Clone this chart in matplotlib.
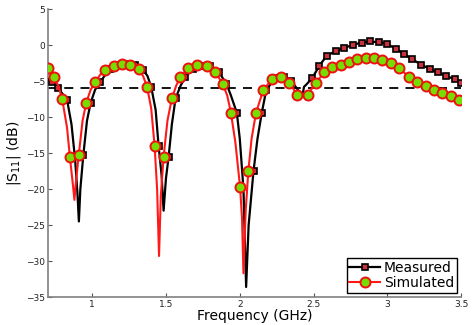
import numpy as np
import matplotlib
matplotlib.use("Agg")
import matplotlib.pyplot as plt

# Datos (frecuencia en GHz, |S11| en dB)
# 1 = punto con marcador, 0 = punto solo de la curva
sim_f = [0.70, 0.74, 0.77, 0.797, 0.83, 0.849, 0.87, 0.88, 0.89, 0.909,
         0.935, 0.96, 0.99, 1.022, 1.055, 1.09, 1.146, 1.203, 1.259, 1.315,
         1.345, 1.372, 1.40, 1.423, 1.44, 1.453, 1.465, 1.484, 1.51, 1.54,
         1.57, 1.597, 1.649, 1.709, 1.777, 1.833, 1.885, 1.915, 1.94, 1.97,
         2.002, 2.015, 2.025, 2.04, 2.058, 2.08, 2.11, 2.16, 2.22, 2.277,
         2.333, 2.39, 2.46, 2.516, 2.572, 2.628, 2.685, 2.74, 2.797, 2.853,
         2.91, 2.966, 3.022, 3.078, 3.146, 3.203, 3.259, 3.315, 3.372, 3.428,
         3.484]
sim_db = [-3.2, -4.5, -5.6, -7.5, -11.5, -15.5, -19.5, -21.5, -19.0, -15.3,
          -10.5, -8.0, -6.2, -5.1, -4.1, -3.5, -2.9, -2.65, -2.7, -3.35,
          -4.3, -5.8, -8.8, -14.0, -20.0, -29.3, -21.0, -15.5, -10.5, -7.4,
          -5.6, -4.5, -3.25, -2.8, -2.9, -3.7, -5.4, -7.0, -9.4, -13.5,
          -19.7, -24.0, -31.7, -23.0, -17.5, -13.0, -9.4, -6.2, -4.7, -4.4,
          -5.2, -6.9, -6.9, -5.2, -3.8, -3.1, -2.7, -2.3, -1.95, -1.75,
          -1.85, -2.1, -2.45, -3.2, -4.4, -5.1, -5.7, -6.2, -6.6, -7.1,
          -7.6]
sim_mark = [1, 1, 0, 1, 0, 1, 0, 0, 0, 1,
            0, 1, 0, 1, 0, 1, 1, 1, 1, 1,
            0, 1, 0, 1, 0, 0, 0, 1, 0, 1,
            0, 1, 1, 1, 1, 1, 1, 0, 1, 0,
            1, 0, 0, 0, 1, 0, 1, 1, 1, 1,
            1, 1, 1, 1, 1, 1, 1, 1, 1, 1,
            1, 1, 1, 1, 1, 1, 1, 1, 1, 1,
            1]

meas_f = [0.70, 0.728, 0.767, 0.80, 0.83, 0.86, 0.885, 0.90, 0.91, 0.92,
          0.94, 0.965, 0.99, 1.02, 1.056, 1.10, 1.12, 1.18, 1.23, 1.29,
          1.345, 1.375, 1.40, 1.43, 1.45, 1.47, 1.484, 1.50, 1.518, 1.54,
          1.565, 1.60, 1.63, 1.68, 1.74, 1.80, 1.86, 1.91, 1.94, 1.98,
          2.00, 2.025, 2.043, 2.06, 2.093, 2.12, 2.149, 2.18, 2.24, 2.30,
          2.35, 2.40, 2.425, 2.435, 2.45, 2.49, 2.54, 2.59, 2.65, 2.705,
          2.77, 2.825, 2.88, 2.94, 2.995, 3.055, 3.11, 3.17, 3.228, 3.286,
          3.343, 3.40, 3.456, 3.50]
meas_db = [-4.7, -5.1, -5.9, -6.8, -7.6, -11.0, -16.0, -20.5, -24.5, -20.0,
           -15.3, -10.5, -8.0, -6.2, -5.1, -3.8, -3.3, -2.8, -2.6, -2.75,
           -3.4, -4.3, -5.8, -9.0, -14.0, -18.0, -23.0, -18.5, -15.5, -11.0,
           -7.4, -5.6, -4.5, -3.3, -2.85, -2.95, -3.8, -5.4, -7.0, -9.4,
           -13.0, -20.0, -33.6, -25.0, -17.5, -13.0, -9.4, -6.2, -4.6, -4.5,
           -5.0, -6.4, -7.0, -5.8, -5.5, -4.6, -2.85, -1.45, -0.85, -0.4,
           0.05, 0.35, 0.5, 0.4, 0.2, -0.5, -1.2, -2.0, -2.7, -3.3,
           -3.8, -4.3, -4.75, -5.3]
meas_mark = [0, 1, 1, 0, 1, 0, 0, 0, 0, 0,
             1, 0, 1, 0, 1, 0, 1, 1, 1, 1,
             1, 0, 1, 0, 1, 0, 0, 0, 1, 0,
             1, 0, 1, 1, 1, 1, 1, 1, 0, 1,
             0, 0, 0, 0, 1, 0, 1, 1, 1, 1,
             1, 0, 0, 0, 0, 1, 1, 1, 1, 1,
             1, 1, 1, 1, 1, 1, 1, 1, 1, 1,
             1, 1, 1, 1]

umbral = -6
x_ticks = [1, 1.5, 2, 2.5, 3, 3.5]
y_ticks = [5, 0, -5, -10, -15, -20, -25, -30, -35]

fig = plt.figure(figsize=(4.74, 3.25), dpi=100)
ax = fig.add_axes([0.101, 0.086, 0.872, 0.886])

idx_meas = [i for i, m in enumerate(meas_mark) if m]
idx_sim = [i for i, m in enumerate(sim_mark) if m]

ax.plot(meas_f, meas_db, color='black', lw=1.6, marker='s', markevery=idx_meas,
        ms=4.6, mfc='#c8323c', mec='black', mew=1.2, label='Measured', zorder=3)
ax.plot(sim_f, sim_db, color='#ff1a1a', lw=1.5, marker='o', markevery=idx_sim,
        ms=7.2, mfc='#77dd00', mec='#ee1111', mew=1.4, label='Simulated', zorder=4)
ax.plot([0.7, 3.5], [umbral, umbral], color='black', lw=1.3, ls=(0, (5, 4)), zorder=2)

ax.set_xlim(0.7, 3.5)
ax.set_ylim(-35, 5)
ax.set_xticks(x_ticks)
ax.set_xticklabels(['1', '1.5', '2', '2.5', '3', '3.5'])
ax.set_yticks(y_ticks)
ax.tick_params(direction='in', length=3, labelsize=6.5, pad=2, color='#555555',
               labelcolor='#222222')
ax.spines['top'].set_visible(False)
ax.spines['right'].set_visible(False)
ax.spines['left'].set_color('#808080')
ax.spines['bottom'].set_color('#808080')
ax.spines['left'].set_linewidth(1.2)
ax.spines['bottom'].set_linewidth(1.2)

ax.set_xlabel('Frequency (GHz)', fontsize=10, labelpad=0)
ax.set_ylabel('|S$_{11}$| (dB)', fontsize=10, labelpad=2)

leg = ax.legend(loc='lower right', fontsize=10, fancybox=False, framealpha=1,
                edgecolor='black', borderpad=0.2, labelspacing=0.1,
                handlelength=2.2, handletextpad=0.3, borderaxespad=0.3)
leg.get_frame().set_linewidth(1.0)

fig.savefig('out.png', dpi=100)
